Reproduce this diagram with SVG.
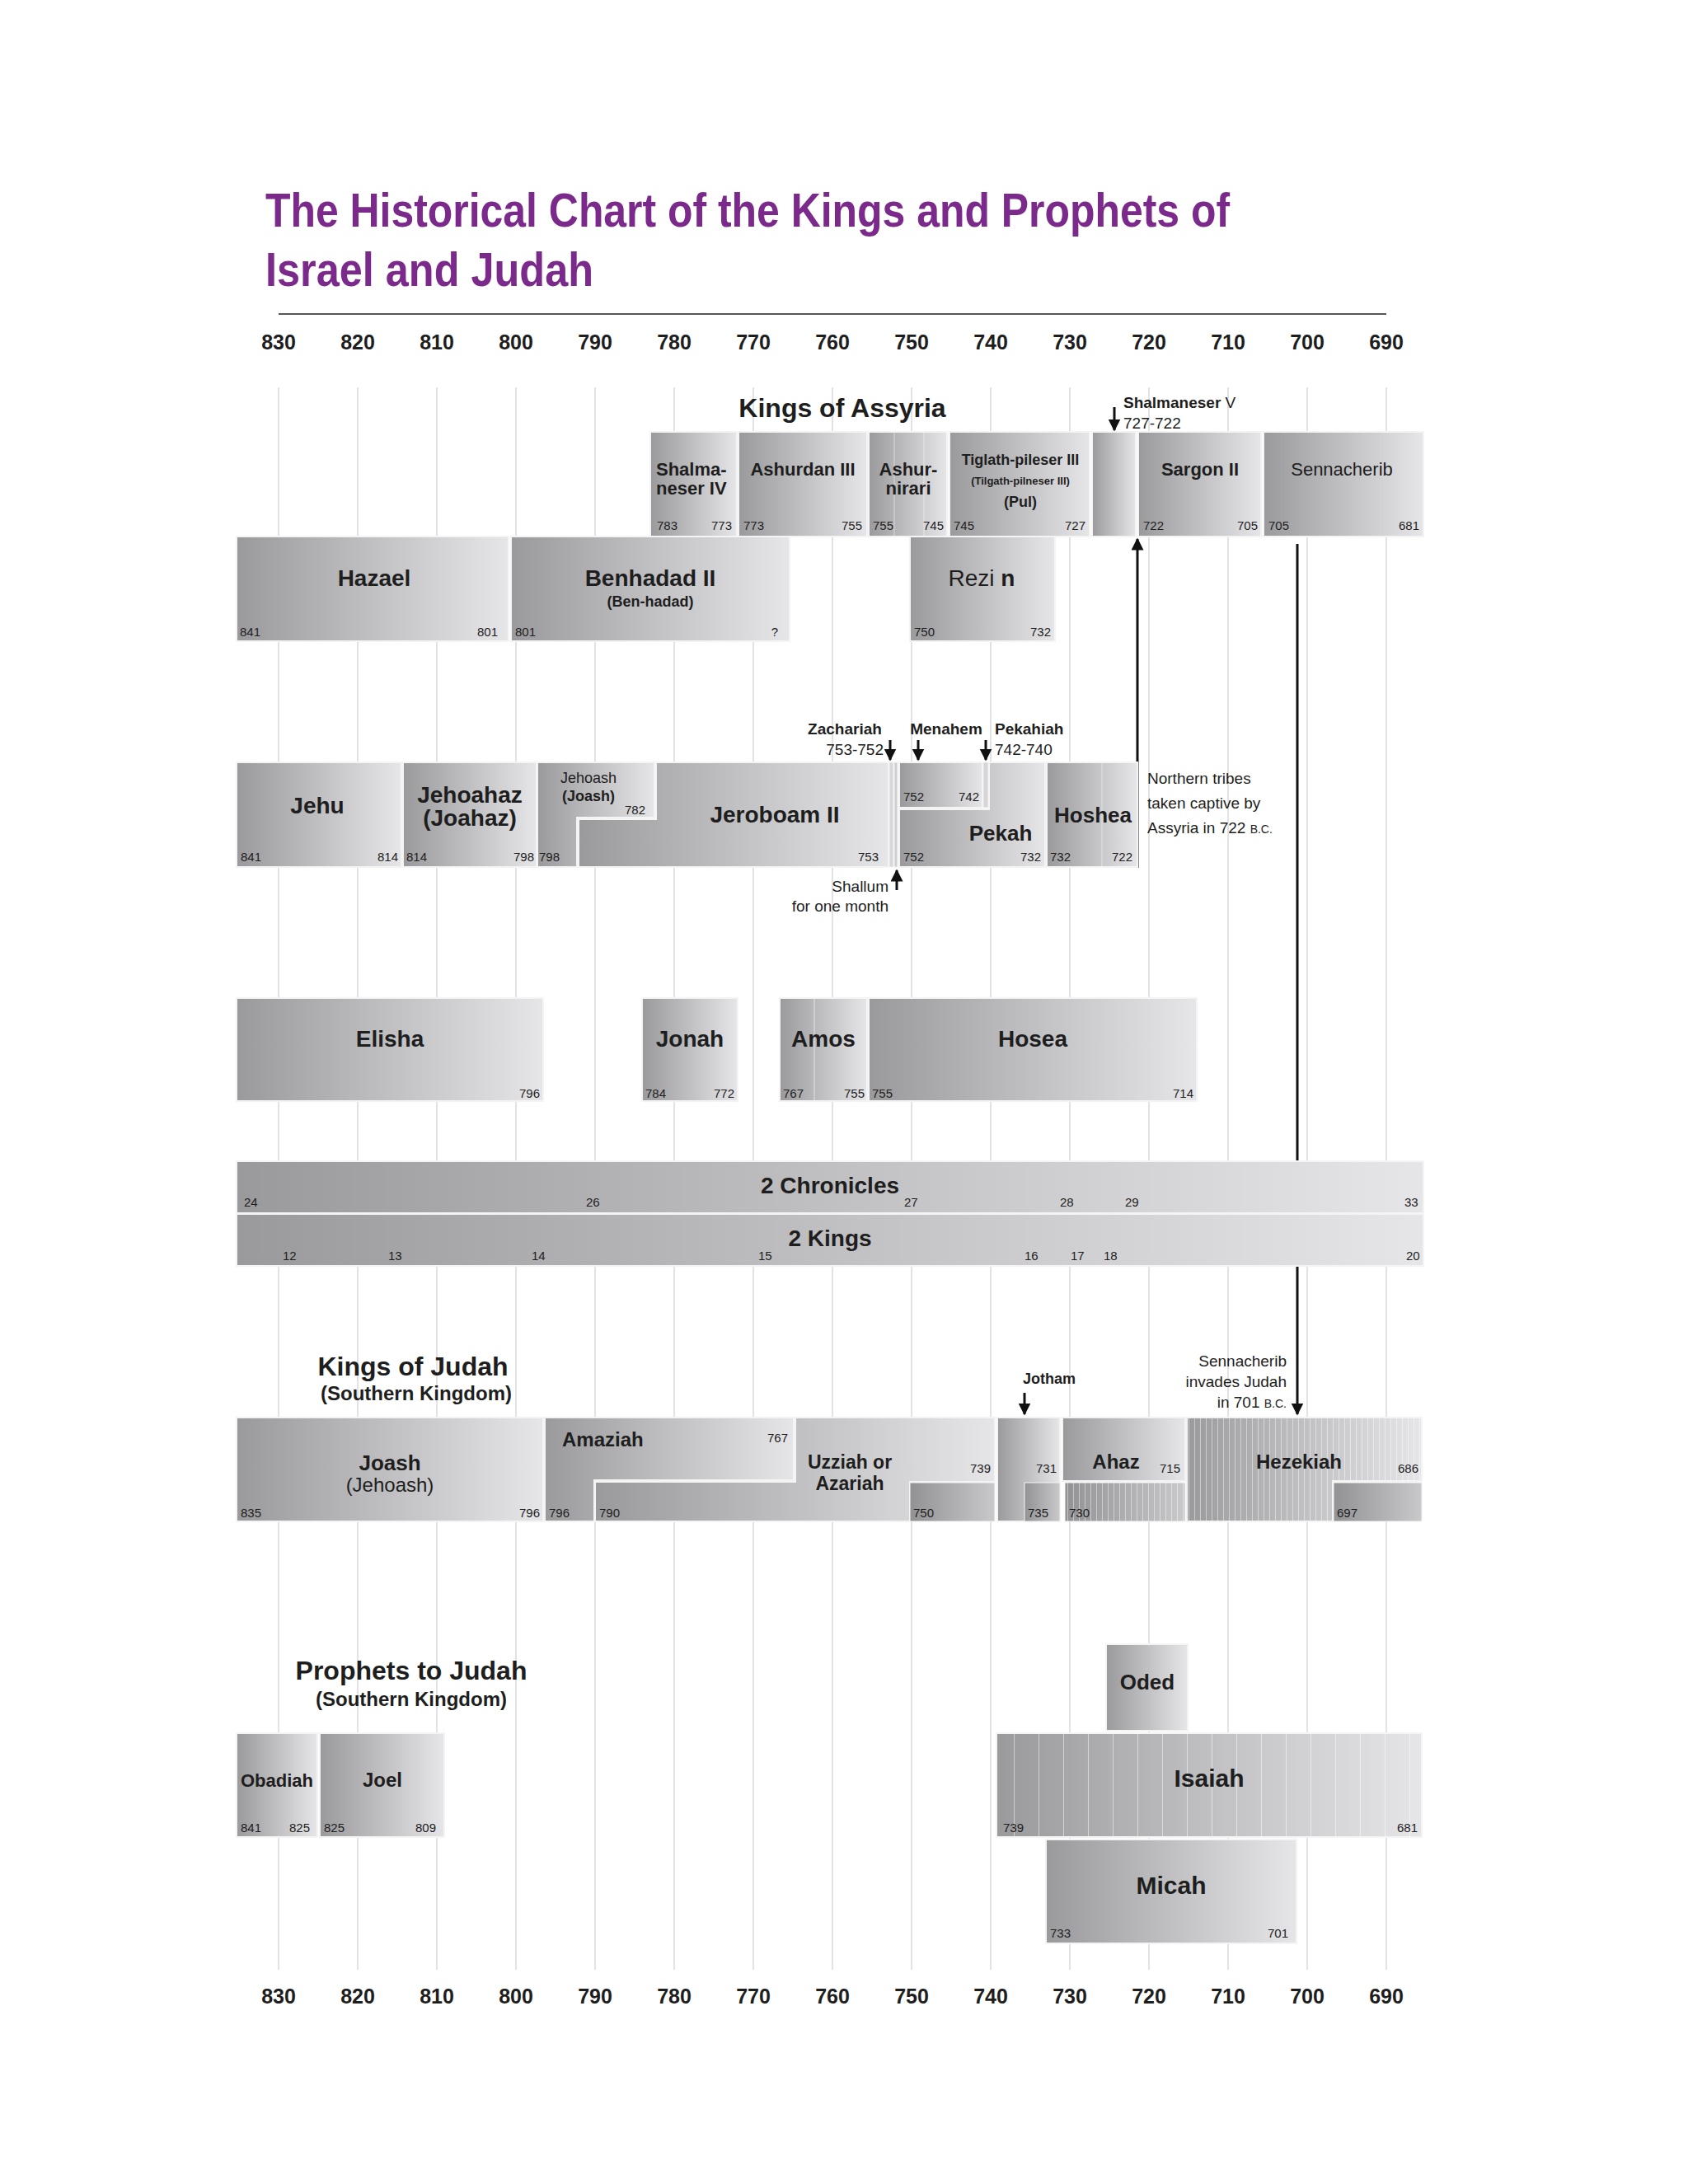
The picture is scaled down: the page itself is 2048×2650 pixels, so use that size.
<svg xmlns="http://www.w3.org/2000/svg" width="2048" height="2650" viewBox="0 0 2048 2650">
<defs>
<linearGradient id="g" x1="0" y1="0" x2="1" y2="0"><stop offset="0" stop-color="#9a9a9c"/><stop offset="1" stop-color="#e6e5e8"/></linearGradient>
<linearGradient id="gd" x1="0" y1="0" x2="1" y2="0"><stop offset="0" stop-color="#929294"/><stop offset="1" stop-color="#c9c8cb"/></linearGradient>
<pattern id="stripe" width="7" height="10" patternUnits="userSpaceOnUse"><rect width="7" height="10" fill="none"/><line x1="0.5" y1="0" x2="0.5" y2="10" stroke="#ffffff" stroke-opacity="0.45" stroke-width="1"/></pattern>
<pattern id="isa" width="30" height="10" patternUnits="userSpaceOnUse"><line x1="0.5" y1="0" x2="0.5" y2="10" stroke="#ffffff" stroke-opacity="0.5" stroke-width="1"/></pattern>
<marker id="ah" viewBox="0 0 10 10" refX="9" refY="5" markerWidth="5" markerHeight="5" orient="auto"><path d="M0,0 L10,5 L0,10 z" fill="#111"/></marker>
</defs>
<style>
text{font-family:"Liberation Sans",Arial,sans-serif;fill:#1e1e1e}
.ax{font-size:25px;font-weight:bold;text-anchor:middle}
.t{font-size:28px;font-weight:bold;text-anchor:middle}
.ta{font-size:22px;font-weight:bold;text-anchor:middle}
.s{font-size:18px;font-weight:bold;text-anchor:middle}
.n{font-size:15px}
.nr{font-size:15px;text-anchor:end}
.h{font-size:32px;font-weight:bold;text-anchor:middle}
.lab{font-size:19px}
.box{fill:url(#g);stroke:#f4f4f4;stroke-width:2}
.grid{stroke:#e3e3e6;stroke-width:2}
.con{stroke:#111;stroke-width:3;fill:none}
</style>
<rect width="2048" height="2650" fill="#ffffff"/>
<g id="title">
<text x="322" y="275" font-size="58" font-weight="bold" style="fill:#7b2a8c" textLength="1170" lengthAdjust="spacingAndGlyphs">The Historical Chart of the Kings and Prophets of</text>
<text x="322" y="347" font-size="58" font-weight="bold" style="fill:#7b2a8c" textLength="398" lengthAdjust="spacingAndGlyphs">Israel and Judah</text>
<line x1="338" y1="381" x2="1682" y2="381" stroke="#555" stroke-width="2"/>
</g>
<g id="grid">
<line class="grid" x1="338" y1="470" x2="338" y2="2390"/><line class="grid" x1="434" y1="470" x2="434" y2="2390"/><line class="grid" x1="530" y1="470" x2="530" y2="2390"/><line class="grid" x1="626" y1="470" x2="626" y2="2390"/><line class="grid" x1="722" y1="470" x2="722" y2="2390"/><line class="grid" x1="818" y1="470" x2="818" y2="2390"/><line class="grid" x1="914" y1="470" x2="914" y2="2390"/><line class="grid" x1="1010" y1="470" x2="1010" y2="2390"/><line class="grid" x1="1106" y1="470" x2="1106" y2="2390"/><line class="grid" x1="1202" y1="470" x2="1202" y2="2390"/><line class="grid" x1="1298" y1="470" x2="1298" y2="2390"/><line class="grid" x1="1394" y1="470" x2="1394" y2="2390"/><line class="grid" x1="1490" y1="470" x2="1490" y2="2390"/><line class="grid" x1="1586" y1="470" x2="1586" y2="2390"/><line class="grid" x1="1682" y1="470" x2="1682" y2="2390"/>
</g>
<g id="axis-top">
<text class="ax" x="338" y="424">830</text><text class="ax" x="434" y="424">820</text><text class="ax" x="530" y="424">810</text><text class="ax" x="626" y="424">800</text><text class="ax" x="722" y="424">790</text><text class="ax" x="818" y="424">780</text><text class="ax" x="914" y="424">770</text><text class="ax" x="1010" y="424">760</text><text class="ax" x="1106" y="424">750</text><text class="ax" x="1202" y="424">740</text><text class="ax" x="1298" y="424">730</text><text class="ax" x="1394" y="424">720</text><text class="ax" x="1490" y="424">710</text><text class="ax" x="1586" y="424">700</text><text class="ax" x="1682" y="424">690</text>
</g>
<g id="axis-bottom">
<text class="ax" x="338" y="2431">830</text><text class="ax" x="434" y="2431">820</text><text class="ax" x="530" y="2431">810</text><text class="ax" x="626" y="2431">800</text><text class="ax" x="722" y="2431">790</text><text class="ax" x="818" y="2431">780</text><text class="ax" x="914" y="2431">770</text><text class="ax" x="1010" y="2431">760</text><text class="ax" x="1106" y="2431">750</text><text class="ax" x="1202" y="2431">740</text><text class="ax" x="1298" y="2431">730</text><text class="ax" x="1394" y="2431">720</text><text class="ax" x="1490" y="2431">710</text><text class="ax" x="1586" y="2431">700</text><text class="ax" x="1682" y="2431">690</text>
</g>

<g id="connectors">
<line class="con" x1="1574" y1="660" x2="1574" y2="1716" marker-end="url(#ah)"/>
<line class="con" x1="1380" y1="1053" x2="1380" y2="654" marker-end="url(#ah)"/>
<line class="con" x1="1352" y1="494" x2="1352" y2="522" marker-end="url(#ah)"/>
<line class="con" x1="1080" y1="898" x2="1080" y2="922" marker-end="url(#ah)"/>
<line class="con" x1="1114" y1="898" x2="1114" y2="922" marker-end="url(#ah)"/>
<line class="con" x1="1196" y1="898" x2="1196" y2="922" marker-end="url(#ah)"/>
<line class="con" x1="1088" y1="1080" x2="1088" y2="1056" marker-end="url(#ah)"/>
<line class="con" x1="1243" y1="1690" x2="1243" y2="1716" marker-end="url(#ah)"/>
<line class="con" x1="320" y1="1224" x2="292" y2="1224" marker-end="url(#ah)"/>
</g>

<g id="assyria">
<text class="h" x="1022" y="506">Kings of Assyria</text>
<g id="shalmaneser4"><rect class="box" x="789" y="524" width="105" height="127"/><text class="ta" x="796" y="577" style="text-anchor:start">Shalma-</text><text class="ta" x="796" y="600" style="text-anchor:start">neser IV</text><text class="n" x="797" y="643">783</text><text class="nr" x="888" y="643">773</text></g>
<g id="ashurdan"><rect class="box" x="896" y="524" width="156" height="127"/><text class="ta" x="974" y="577">Ashurdan III</text><text class="n" x="902" y="643">773</text><text class="nr" x="1046" y="643">755</text></g>
<g id="ashurnirari"><rect class="box" x="1054" y="524" width="95" height="127"/><line x1="1085" y1="524" x2="1085" y2="651" stroke="#fff" stroke-opacity=".5"/><line x1="1121" y1="524" x2="1121" y2="651" stroke="#fff" stroke-opacity=".5"/><text class="ta" x="1102" y="577">Ashur-</text><text class="ta" x="1102" y="600">nirari</text><text class="n" x="1059" y="643">755</text><text class="nr" x="1145" y="643">745</text></g>
<g id="tiglath"><rect class="box" x="1152" y="524" width="170" height="127"/><text class="s" x="1238" y="564">Tiglath-pileser III</text><text x="1238" y="588" font-size="13" font-weight="bold" text-anchor="middle">(Tilgath-pilneser III)</text><text class="s" x="1238" y="615">(Pul)</text><text class="n" x="1157" y="643">745</text><text class="nr" x="1317" y="643">727</text></g>
<g id="shalmaneser5"><rect class="box" x="1325" y="524" width="53" height="127"/><text class="lab" x="1363" y="495"><tspan font-weight="bold">Shalmaneser</tspan> V</text><text class="lab" x="1363" y="520">727-722</text></g>
<g id="sargon"><rect class="box" x="1381" y="524" width="149" height="127"/><text class="ta" x="1456" y="577">Sargon II</text><text class="n" x="1387" y="643">722</text><text class="nr" x="1526" y="643">705</text></g>
<g id="sennacherib"><rect class="box" x="1533" y="524" width="194" height="127"/><text x="1628" y="577" font-size="22" text-anchor="middle">Sennacherib</text><text class="n" x="1539" y="643">705</text><text class="nr" x="1722" y="643">681</text></g>
</g>

<g id="syria">
<g id="hazael"><rect class="box" x="287" y="651" width="330" height="127"/><text class="t" x="454" y="711">Hazael</text><text class="n" x="291" y="772">841</text><text class="nr" x="604" y="772">801</text></g>
<g id="benhadad"><rect class="box" x="620" y="651" width="338" height="127"/><text class="t" x="789" y="711">Benhadad II</text><text class="s" x="789" y="736">(Ben-hadad)</text><text class="n" x="625" y="772">801</text><text class="nr" x="944" y="772">?</text></g>
<g id="rezin"><rect class="box" x="1104" y="651" width="176" height="127"/><text x="1191" y="711" font-size="28" text-anchor="middle">Rezi <tspan font-weight="bold">n</tspan></text><text class="n" x="1109" y="772">750</text><text class="nr" x="1275" y="772">732</text></g>
</g>

<g id="israel">
<g id="jehu"><rect class="box" x="287" y="925" width="200" height="127"/><text class="t" x="385" y="987">Jehu</text><text class="n" x="292" y="1045">841</text><text class="nr" x="483" y="1045">814</text></g>
<g id="jehoahaz"><rect class="box" x="489" y="925" width="162" height="127"/><text class="t" x="570" y="974">Jehoahaz</text><text class="t" x="570" y="1002">(Joahaz)</text><text class="n" x="493" y="1045">814</text><text class="nr" x="648" y="1045">798</text></g>
<g id="jehoash"><path d="M652,925 H794 V992 H700 V1052 H652 Z" fill="url(#g)" stroke="#f4f4f4" stroke-width="2"/><text x="714" y="950" font-size="18" text-anchor="middle">Jehoash</text><text class="s" x="714" y="972">(Joash)</text><text class="n" x="758" y="988">782</text><text class="n" x="654" y="1045">798</text><text class="n" x="708" y="1045">793</text></g>
<g id="jeroboam"><path d="M796,925 H1078 V1052 H702 V994 H796 Z" fill="url(#g)" stroke="#f4f4f4" stroke-width="2"/><text class="t" x="940" y="998">Jeroboam II</text><text class="nr" x="1066" y="1045">753</text></g>
<g id="zachariah"><rect x="1079" y="925" width="5" height="127" fill="#d8d8da" stroke="#f4f4f4"/><text class="lab" x="1025" y="891" font-weight="bold" text-anchor="middle">Zachariah</text><text class="lab" x="1072" y="916" text-anchor="end">753-752</text></g>
<g id="shallum"><rect x="1085" y="925" width="4" height="127" fill="#cfcfd1" stroke="#f4f4f4"/><text class="lab" x="1078" y="1082" text-anchor="end">Shallum</text><text class="lab" x="1078" y="1106" text-anchor="end">for one month</text></g>
<g id="menahem"><rect class="box" x="1091" y="925" width="101" height="55"/><text class="lab" x="1148" y="891" font-weight="bold" text-anchor="middle">Menahem</text><text class="n" x="1096" y="972">752</text><text class="nr" x="1188" y="972">742</text></g>
<g id="pekahiah"><rect x="1193" y="925" width="6" height="55" fill="#d5d5d8" stroke="#f4f4f4"/><text class="lab" x="1207" y="891" font-weight="bold">Pekahiah</text><text class="lab" x="1207" y="916">742-740</text></g>
<g id="pekah"><path d="M1200,925 H1268 V1052 H1091 V982 H1200 Z" fill="url(#g)" stroke="#f4f4f4" stroke-width="2"/><text class="ta" x="1214" y="1020" style="font-size:26px">Pekah</text><text class="n" x="1096" y="1045">752</text><text class="nr" x="1263" y="1045">732</text></g>
<g id="hoshea"><rect class="box" x="1270" y="925" width="110" height="127"/><line x1="1337" y1="925" x2="1337" y2="1052" stroke="#fff" stroke-opacity=".5"/><text class="t" x="1326" y="998" style="font-size:26px">Hoshea</text><text class="n" x="1274" y="1045">732</text><text class="nr" x="1374" y="1045">722</text></g>
<g id="captivity"><text class="lab" x="1392" y="951">Northern tribes</text><text class="lab" x="1392" y="981">taken captive by</text><text class="lab" x="1392" y="1011">Assyria in 722 <tspan font-size="14">B.C.</tspan></text></g>
</g>

<g id="prophets-israel">
<g id="elisha"><rect class="box" x="287" y="1211" width="372" height="125"/><text class="t" x="473" y="1270">Elisha</text><text class="nr" x="655" y="1332">796</text></g>
<g id="jonah"><rect class="box" x="779" y="1211" width="116" height="125"/><text class="t" x="837" y="1270">Jonah</text><text class="n" x="783" y="1332">784</text><text class="nr" x="891" y="1332">772</text></g>
<g id="amos"><rect class="box" x="946" y="1211" width="106" height="125"/><line x1="988" y1="1211" x2="988" y2="1336" stroke="#fff" stroke-opacity=".6"/><text class="t" x="999" y="1270">Amos</text><text class="n" x="950" y="1332">767</text><text class="nr" x="1049" y="1332">755</text></g>
<g id="hosea"><rect class="box" x="1054" y="1211" width="398" height="125"/><text class="t" x="1253" y="1270">Hosea</text><text class="n" x="1058" y="1332">755</text><text class="nr" x="1448" y="1332">714</text></g>
</g>

<g id="books">
<g id="chronicles"><rect class="box" x="287" y="1409" width="1440" height="63"/><text class="t" x="1007" y="1448">2 Chronicles</text><text class="n" x="296" y="1464">24</text><text class="n" x="711" y="1464">26</text><text class="n" x="1097" y="1464">27</text><text class="n" x="1286" y="1464">28</text><text class="n" x="1365" y="1464">29</text><text class="n" x="1704" y="1464">33</text></g>
<g id="kings"><rect class="box" x="287" y="1473" width="1440" height="63"/><text class="t" x="1007" y="1512">2 Kings</text><text class="n" x="343" y="1529">12</text><text class="n" x="471" y="1529">13</text><text class="n" x="645" y="1529">14</text><text class="n" x="920" y="1529">15</text><text class="n" x="1243" y="1529">16</text><text class="n" x="1299" y="1529">17</text><text class="n" x="1339" y="1529">18</text><text class="n" x="1706" y="1529">20</text></g>
</g>

<g id="judah">
<text class="h" x="501" y="1669">Kings of Judah</text><text class="t" x="505" y="1699" style="font-size:24px">(Southern Kingdom)</text>
<g id="joash"><rect class="box" x="287" y="1720" width="372" height="126"/><text class="t" x="473" y="1784" style="font-size:26px">Joash</text><text class="t" x="473" y="1810" style="font-size:24px;font-weight:normal">(Jehoash)</text><text class="n" x="292" y="1841">835</text><text class="nr" x="655" y="1841">796</text></g>
<g id="amaziah"><path d="M661,1720 H963 V1796 H721 V1846 H661 Z" fill="url(#g)" stroke="#f4f4f4" stroke-width="2"/><text class="ta" x="682" y="1755" style="text-anchor:start;font-size:24px">Amaziah</text><text class="n" x="931" y="1750">767</text><text class="n" x="666" y="1841">796</text></g>
<g id="uzziah"><path d="M965,1720 H1207 V1798 H1104 V1846 H722 V1798 H965 Z" fill="url(#g)" stroke="#f4f4f4" stroke-width="2"/><rect x="1104" y="1799" width="103" height="47" fill="url(#gd)" stroke="#f4f4f4"/><text class="ta" x="1031" y="1782" style="font-size:23px">Uzziah or</text><text class="ta" x="1031" y="1808" style="font-size:23px">Azariah</text><text class="nr" x="1202" y="1787">739</text><text class="n" x="727" y="1841">790</text><text class="n" x="1108" y="1841">750</text></g>
<g id="jotham"><rect class="box" x="1210" y="1720" width="76" height="126"/><rect x="1243" y="1799" width="43" height="47" fill="url(#gd)" stroke="#f4f4f4"/><text class="s" x="1273" y="1679">Jotham</text><text class="nr" x="1282" y="1787">731</text><text class="n" x="1247" y="1841">735</text></g>
<g id="ahaz"><rect class="box" x="1289" y="1720" width="149" height="77"/><rect x="1292" y="1799" width="146" height="47" fill="url(#gd)" stroke="#f4f4f4"/><rect x="1292" y="1799" width="146" height="47" fill="url(#stripe)"/><text class="ta" x="1354" y="1782" style="font-size:24px">Ahaz</text><text class="nr" x="1432" y="1787">715</text><text class="n" x="1297" y="1841">730</text></g>
<g id="hezekiah"><path d="M1440,1720 H1725 V1797 H1617 V1846 H1440 Z" fill="url(#g)" stroke="#f4f4f4" stroke-width="2"/><path d="M1440,1720 H1725 V1797 H1617 V1846 H1440 Z" fill="url(#stripe)"/><rect x="1618" y="1799" width="107" height="47" fill="url(#gd)" stroke="#f4f4f4"/><text class="ta" x="1576" y="1782" style="font-size:24px">Hezekiah</text><text class="nr" x="1721" y="1787">686</text><text class="n" x="1622" y="1841">697</text></g>
<g id="invasion"><text class="lab" x="1561" y="1658" text-anchor="end">Sennacherib</text><text class="lab" x="1561" y="1683" text-anchor="end">invades Judah</text><text class="lab" x="1561" y="1708" text-anchor="end">in 701 <tspan font-size="14">B.C.</tspan></text></g>
</g>

<g id="prophets-judah">
<text class="h" x="499" y="2038">Prophets to Judah</text><text class="t" x="499" y="2070" style="font-size:24px">(Southern Kingdom)</text>
<g id="obadiah"><rect class="box" x="287" y="2103" width="98" height="126"/><text class="ta" x="336" y="2168">Obadiah</text><text class="n" x="292" y="2223">841</text><text class="nr" x="376" y="2223">825</text></g>
<g id="joel"><rect class="box" x="388" y="2103" width="151" height="126"/><text class="ta" x="464" y="2168" style="font-size:24px">Joel</text><text class="n" x="393" y="2223">825</text><text class="nr" x="529" y="2223">809</text></g>
<g id="oded"><rect class="box" x="1342" y="1995" width="99" height="105"/><text class="ta" x="1392" y="2050" style="font-size:26px">Oded</text></g>
<g id="isaiah"><rect class="box" x="1209" y="2103" width="516" height="126"/><rect x="1209" y="2103" width="516" height="126" fill="url(#isa)"/><text class="t" x="1467" y="2168" style="font-size:30px">Isaiah</text><text class="n" x="1217" y="2223">739</text><text class="nr" x="1720" y="2223">681</text></g>
<g id="micah"><rect class="box" x="1269" y="2232" width="304" height="126"/><text class="t" x="1421" y="2298" style="font-size:30px">Micah</text><text class="n" x="1274" y="2351">733</text><text class="nr" x="1563" y="2351">701</text></g>
</g>
</svg>
